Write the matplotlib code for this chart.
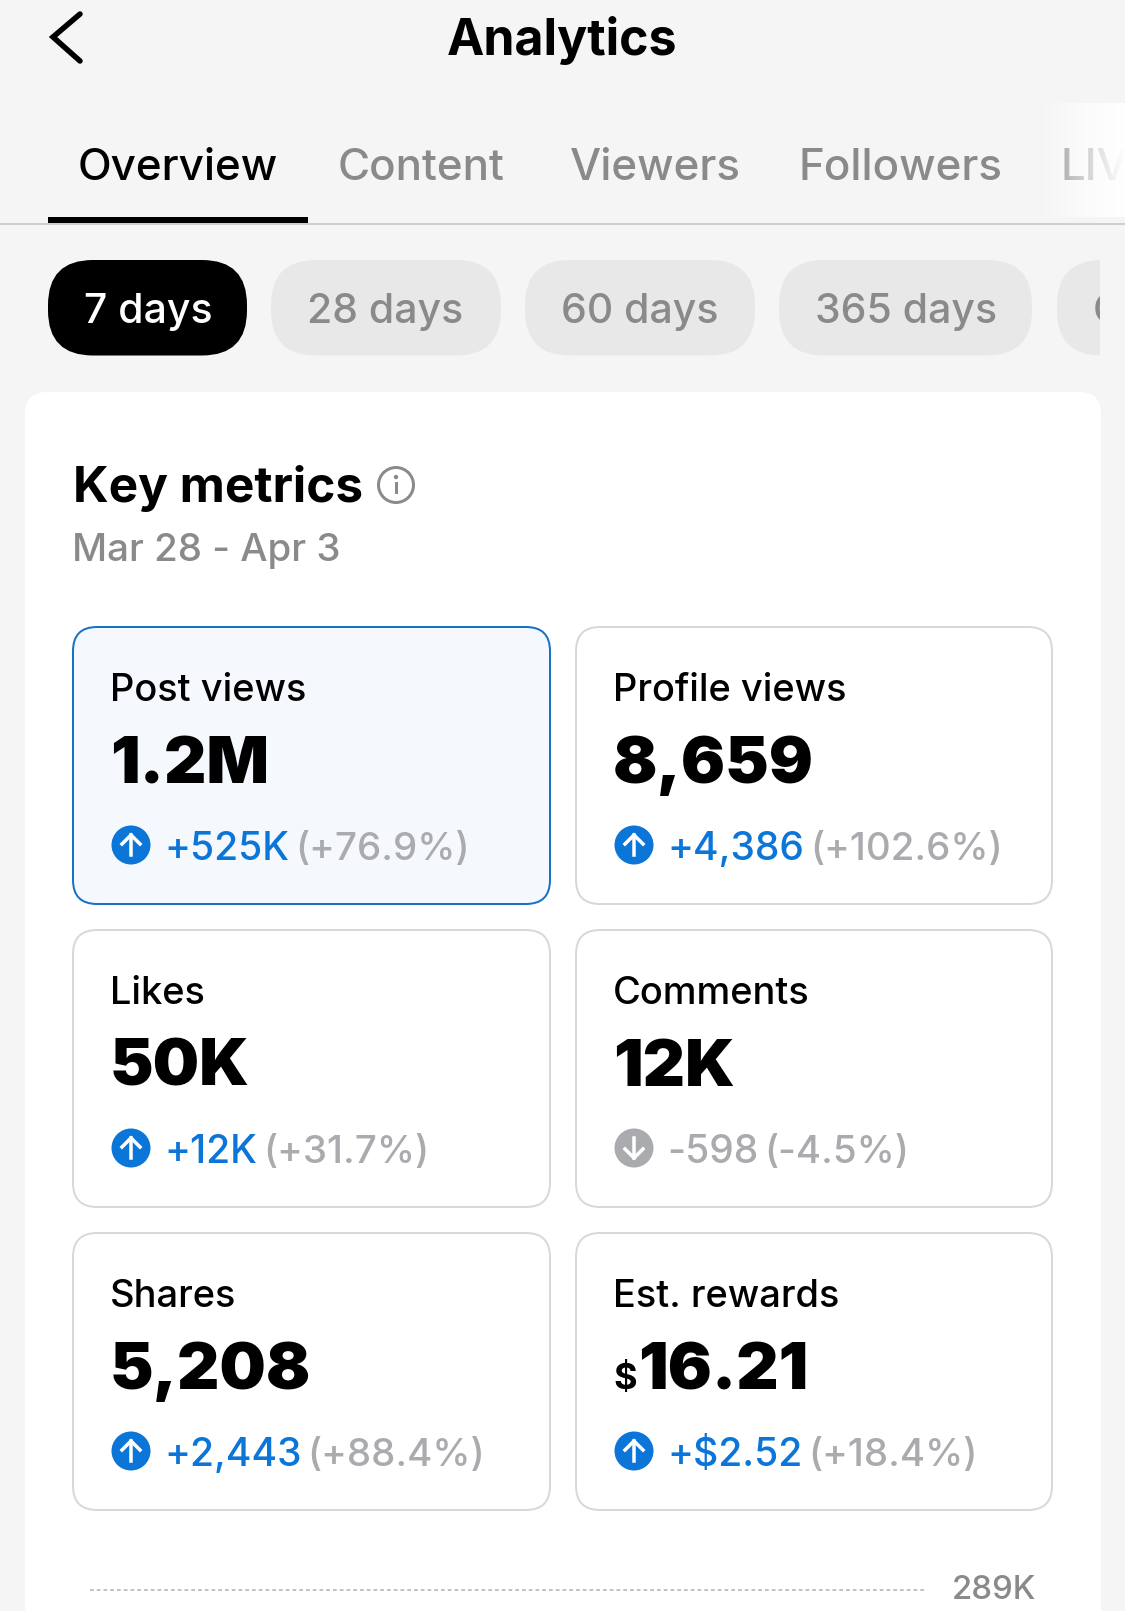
import matplotlib
matplotlib.use("Agg")
import matplotlib.pyplot as plt
import numpy as np
from matplotlib.patches import FancyBboxPatch, Circle, Rectangle

FONT = "Inter"
title = "Analytics"
tabs = ["Overview", "Content", "Viewers", "Followers", "LIVE"]
periods = ["7 days", "28 days", "60 days", "365 days", "Custom"]
heading = "Key metrics"
date_range = "Mar 28 - Apr 3"
metric_names = ["Post views", "Profile views", "Likes", "Comments", "Shares", "Est. rewards"]
metric_values = ["1.2M", "8,659", "50K", "12K", "5,208", "16.21"]
metric_prefix = ["", "", "", "", "", "$"]
metric_deltas = ["+525K", "+4,386", "+12K", "-598", "+2,443", "+$2.52"]
metric_pcts = ["(+76.9%)", "(+102.6%)", "(+31.7%)", "(-4.5%)", "(+88.4%)", "(+18.4%)"]
metric_up = [True, True, True, False, True, True]
axis_label = "289K"

W, H = 1125, 1611
BG = "#F5F5F5"
BLUE = "#0B75D8"
GRAY = "#8A8A8A"
PCT = "#A9ABAE"

fig = plt.figure(figsize=(W / 100, H / 100), dpi=100, facecolor=BG)
ax = fig.add_axes([0, 0, 1, 1])
ax.set_xlim(0, W)
ax.set_ylim(H, 0)
ax.axis("off")
S = 72 / 100


def txt(x, y, s, px, color="black", weight="normal", ha="left", clip=None):
    t = ax.text(x, y, s, fontsize=px * S, color=color, fontweight=weight, ha=ha,
                va="baseline", family=FONT)
    if clip is not None:
        t.set_clip_path(clip)
        t.set_clip_on(True)
    return t


def rbox(x0, y0, x1, y1, r, fc, ec="none", lw=0, clip=None, z=1):
    p = FancyBboxPatch((x0 + r, y0 + r), x1 - x0 - 2 * r, y1 - y0 - 2 * r,
                       boxstyle=f"round,pad={r},rounding_size={r}",
                       fc=fc, ec=ec, lw=lw * S, zorder=z)
    ax.add_patch(p)
    if clip is not None:
        p.set_clip_path(clip)
    return p


# Header
ax.plot([80, 53, 80], [14, 37, 61], color="black", lw=5.5 * S, solid_capstyle="round",
        solid_joinstyle="miter")
txt(562, 55, title, 50, weight="bold", ha="center")

# Tabs
tab_x = [78, 338, 570, 798, 1061]
for i, (x, name) in enumerate(zip(tab_x, tabs)):
    txt(x, 180, name, 44, color="black" if i == 0 else GRAY, weight="medium")
grad = np.ones((2, 256, 4))
grad[..., 3] = np.linspace(0, 1, 256) ** 0.8
ax.imshow(grad, extent=[1040, 1125, 217, 103], aspect="auto", zorder=3, interpolation="bilinear")
ax.set_xlim(0, W)
ax.set_ylim(H, 0)
ax.add_patch(Rectangle((0, 223), W, 1.5, fc="#CFCFCF", ec="none", zorder=4))
ax.add_patch(Rectangle((48, 217), 260, 6, fc="black", ec="none", zorder=5))

# Period pills
pill_clip = Rectangle((0, 240), 1100, 130, transform=ax.transData)
pill_x = [(48, 247), (271, 501), (525, 755), (779, 1032), (1057, 1280)]
text_x = [84, 307, 561, 815, 1093]
for i, ((a, b), tx, name) in enumerate(zip(pill_x, text_x, periods)):
    on = i == 0
    rbox(a, 260, b, 355.5, 45, "black" if on else "#E8E8E8", clip=pill_clip)
    txt(tx, 323, name, 41, color="white" if on else GRAY, weight="medium", clip=pill_clip)

# Main card
rbox(25, 392, 1101, 1700, 22, "white")
txt(73, 502, heading, 49.5, weight="bold")
ax.add_patch(Circle((396, 485), 17.5, fc="none", ec="#8A8A8A", lw=3 * S, zorder=3))
ax.add_patch(Circle((396, 477), 2.2, fc="#8A8A8A", ec="none", zorder=3))
ax.add_patch(Rectangle((394.5, 482), 3, 12, fc="#8A8A8A", ec="none", zorder=3))
txt(72, 561, date_range, 38.5, color=GRAY, weight="medium")

# Metric cards
rend = fig.canvas.get_renderer()
inv = ax.transData.inverted()
col_x = [(73, 550), (576, 1052)]
row_y = [627, 930, 1233]
for i in range(6):
    a, b = col_x[i % 2]
    top = row_y[i // 2]
    sel = i == 0
    rbox(a, top, b, top + 277, 24, "#F5F9FD" if sel else "white",
         ec="#1772C4" if sel else "#D8D8D8", lw=2, z=2)
    tx = a + 37
    txt(tx, top + 74, metric_names[i], 38, weight="medium")
    vx = tx
    if metric_prefix[i]:
        t = txt(vx, top + 156, metric_prefix[i], 36, weight="bold")
        vx = inv.transform(t.get_window_extent(rend))[1, 0] + 1
    txt(vx, top + 156, metric_values[i], 65.5, weight="black")
    up = metric_up[i]
    cx, cy = a + 58, top + 218
    ccol = BLUE if up else "#A9ABAE"
    ax.add_patch(Circle((cx, cy), 19.5, fc=ccol, ec="none", zorder=3))
    d = -1 if up else 1
    ax.plot([cx, cx], [cy - 10, cy + 10], color="white", lw=3.5 * S, zorder=4)
    ax.plot([cx - 9, cx, cx + 9], [cy + d * 1, cy + d * 10, cy + d * 1], color="white", lw=3.5 * S,
            solid_joinstyle="miter", zorder=4)
    t = txt(a + 91, top + 233, metric_deltas[i], 39, color=BLUE if up else PCT, weight="medium")
    ex = inv.transform(t.get_window_extent(rend))[1, 0]
    txt(ex + 6, top + 233, metric_pcts[i], 38.5, color=PCT, weight="medium")

# Chart axis top
ax.plot([90, 925], [1590, 1590], color="#B0B0B0", lw=1.5 * S, ls=(0, (2.5, 2)), zorder=3)
txt(952, 1599, axis_label, 33, color=GRAY, weight="medium")

fig.savefig("out.png", dpi=100, facecolor=BG)
